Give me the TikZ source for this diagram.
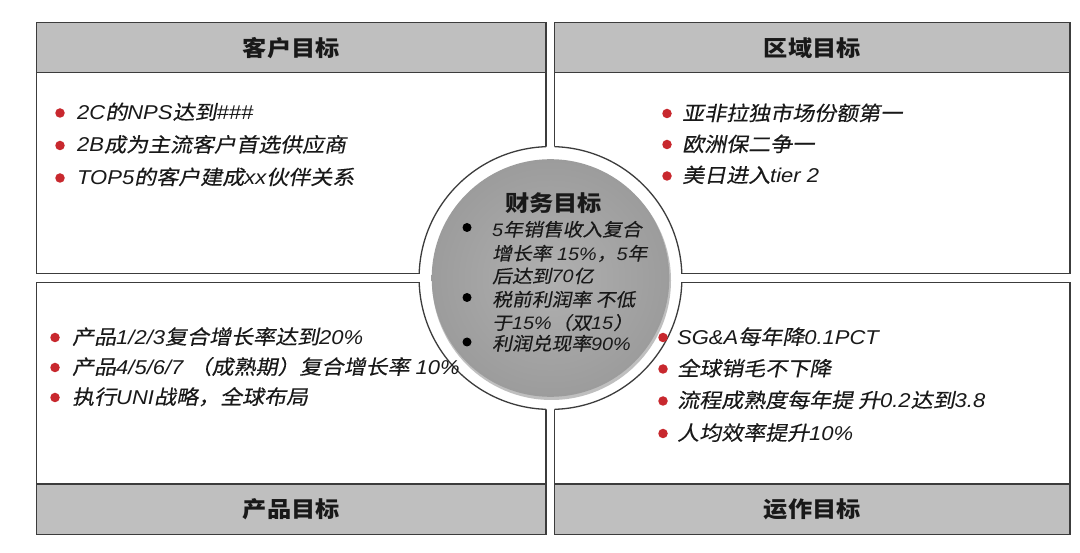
\documentclass[tikz,border=0pt]{standalone}
\usepackage{fontspec}
\setmainfont{Liberation Sans}
\newfontfamily\zh[FakeSlant=0.2,FakeStretch=1.1,FakeBold=0.3]{Noto Sans CJK SC}
\newfontfamily\zhb[FakeStretch=1.1]{Noto Sans CJK SC}
\newfontfamily\latf[FakeStretch=1.1]{Liberation Sans}
\newcommand\lt[1]{{\latf\itshape #1}}
\definecolor{hdgray}{RGB}{191,191,191}
\definecolor{edge}{RGB}{60,60,60}
\definecolor{bulletred}{RGB}{200,40,46}
\definecolor{txt}{RGB}{25,25,25}
\definecolor{cin}{RGB}{176,176,176}
\definecolor{cout}{RGB}{156,156,156}
\begin{document}
\begin{tikzpicture}[x=1pt,y=-1pt,
  frame/.style={draw=edge,line width=1.3pt},
  hd/.style={font=\zhb\bfseries\fontsize{22}{22}\selectfont,text=txt,inner sep=0pt},
  item/.style={font=\zh\fontsize{20}{24}\selectfont,text=txt,inner sep=0pt,anchor=base west},
  citem/.style={font=\zh\fontsize{18}{22}\selectfont,text=txt,inner sep=0pt,anchor=base west},
  rdot/.style={circle,fill=bulletred,minimum size=9.5pt,inner sep=0pt},
  kdot/.style={circle,fill=black,minimum size=9pt,inner sep=0pt}]
\path[use as bounding box,fill=white] (0,0) rectangle (1080,553);
\coordinate (c) at (550.5,278);
% boxes
\fill[white] (36.7,22.7) rectangle (546,273.3);
\fill[hdgray] (36.7,22.7) rectangle (546,72.7);
\draw[frame] (36.7,22.7) rectangle (546,273.3);
\draw[frame] (36.7,72.7) -- (546,72.7);
\fill[white] (554.7,22.7) rectangle (1070,273.3);
\fill[hdgray] (554.7,22.7) rectangle (1070,72.7);
\draw[frame] (554.7,22.7) rectangle (1070,273.3);
\draw[frame] (554.7,72.7) -- (1070,72.7);
\fill[white] (36.7,282.7) rectangle (546,534.3);
\fill[hdgray] (36.7,484) rectangle (546,534.3);
\draw[frame] (36.7,282.7) rectangle (546,534.3);
\draw[frame] (36.7,484) -- (546,484);
\fill[white] (554.7,282.7) rectangle (1070,534.3);
\fill[hdgray] (554.7,484) rectangle (1070,534.3);
\draw[frame] (554.7,282.7) rectangle (1070,534.3);
\draw[frame] (554.7,484) -- (1070,484);
% circle cut-out
\fill[white] (c) circle[radius=131.4];
\begin{scope}\clip (36.7,22.7) rectangle (546,273.3); \draw[frame] (c) circle[radius=131.4]; \end{scope}
\begin{scope}\clip (554.7,22.7) rectangle (1070,273.3); \draw[frame] (c) circle[radius=131.4]; \end{scope}
\begin{scope}\clip (36.7,282.7) rectangle (546,534.3); \draw[frame] (c) circle[radius=131.4]; \end{scope}
\begin{scope}\clip (554.7,282.7) rectangle (1070,534.3); \draw[frame] (c) circle[radius=131.4]; \end{scope}
\fill[gray!50] ([shift={(1,2.5)}]c) circle[radius=119.5];
\shade[inner color=cin,outer color=cout] (c) circle[radius=118.8];
% headers
\node[hd] (h1) at (291.3,47.7) {客户目标};
\node[hd] (h2) at (812.3,47.7) {区域目标};
\node[hd] (h3) at (291.3,509.2) {产品目标};
\node[hd] (h4) at (812.3,509.2) {运作目标};
% top-left items
\node[rdot] (tl1d) at (60,113) {};
\node[rdot] (tl2d) at (60,145.5) {};
\node[rdot] (tl3d) at (60,178) {};
\node[item] (tl1) at (77,119.5) {\lt{2C}的\lt{NPS}达到\lt{\#\#\#}};
\node[item] (tl2) at (77,152) {\lt{2B}成为主流客户首选供应商};
\node[item] (tl3) at (77,184.5) {\lt{TOP5}的客户建成\lt{xx}伙伴关系};
% top-right items
\node[rdot] (tr1d) at (667,113.5) {};
\node[rdot] (tr2d) at (667,144.5) {};
\node[rdot] (tr3d) at (667,176) {};
\node[item] (tr1) at (682,120.5) {亚非拉独市场份额第一};
\node[item] (tr2) at (682,151.5) {欧洲保二争一};
\node[item] (tr3) at (682,182.5) {美日进入\lt{tier 2}};
% bottom-left items
\node[rdot] (bl1d) at (55,337.5) {};
\node[rdot] (bl2d) at (55,367.5) {};
\node[rdot] (bl3d) at (55,397.5) {};
\node[item] (bl1) at (72,344.2) {产品\lt{1/2/3}复合增长率达到\lt{20\%}};
\node[item] (bl2) at (72,374.2) {产品\lt{4/5/6/7 }（成熟期）复合增长率\lt{ 10\%}};
\node[item] (bl3) at (72,404.2) {执行\lt{UNI}战略，全球布局};
% bottom-right items
\node[rdot] (br1d) at (663,337.5) {};
\node[rdot] (br2d) at (663,369) {};
\node[rdot] (br3d) at (663,401) {};
\node[rdot] (br4d) at (663,433.5) {};
\node[item] (br1) at (677,344.2) {\lt{SG\&A}每年降\lt{0.1PCT}};
\node[item] (br2) at (677,375.8) {全球销毛不下降};
\node[item] (br3) at (677,407.5) {流程成熟度每年提 升\lt{0.2}达到\lt{3.8}};
\node[item] (br4) at (677,440.2) {人均效率提升\lt{10\%}};
% centre
\node[hd] (ct) at (553.5,203) {财务目标};
\node[kdot] (c1d) at (467,227.5) {};
\node[kdot] (c4d) at (467,297.5) {};
\node[kdot] (c6d) at (467,342) {};
\node[citem] (c1) at (492,236.1) {\lt{5}年销售收入复合};
\node[citem] (c2) at (492,260.1) {增长率\lt{ 15\%}，\lt{5}年};
\node[citem] (c3) at (492,282.8) {后达到\lt{70}亿};
\node[citem] (c4) at (492,306.1) {税前利润率 不低};
\node[citem] (c5) at (492,329.5) {于\lt{15\%}（双\lt{15}）};
\node[citem] (c6) at (492,350.1) {利润兑现率\lt{90\%}};
\end{tikzpicture}
\end{document}
